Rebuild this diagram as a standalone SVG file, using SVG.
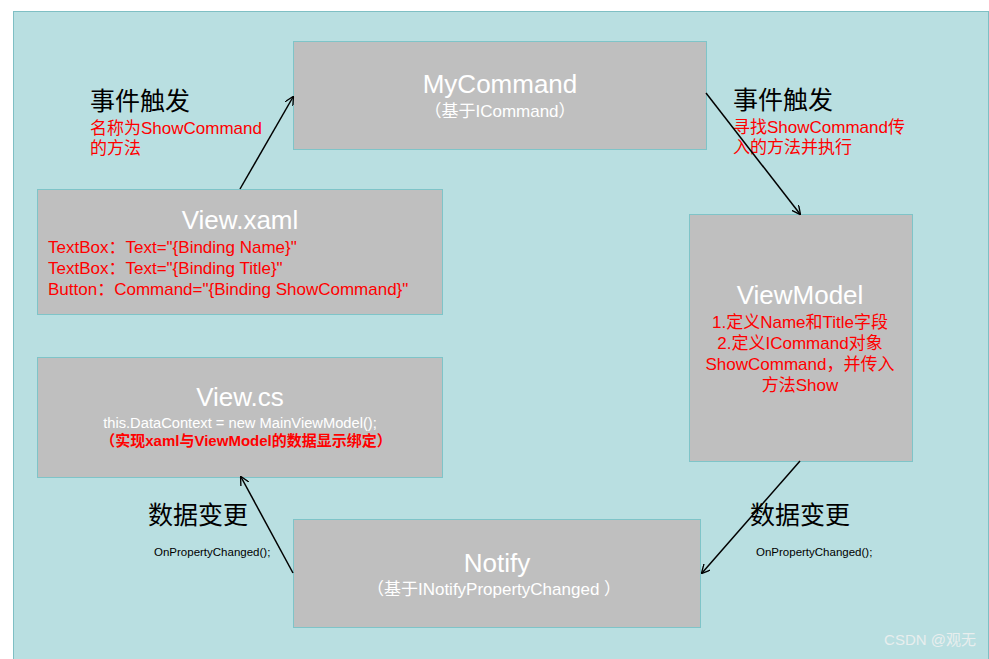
<svg xmlns="http://www.w3.org/2000/svg" width="989" height="659" viewBox="0 0 989 659">
<style>
.box{fill:#bfbfbf;stroke:#7fc4c8;stroke-width:1}
.t{font-family:"Liberation Sans","Noto Sans CJK SC",sans-serif;fill:#fff;text-anchor:middle}
.r{font-family:"Liberation Sans","Noto Sans CJK SC",sans-serif;fill:#ff0000;font-size:17px}
.k{font-family:"Noto Sans CJK SC",serif;fill:#000;font-size:25px}
.s{font-family:"Liberation Sans",sans-serif;fill:#000;font-size:11.5px}
.c{stroke:#000;stroke-width:1.5;fill:none;marker-end:url(#a)}
</style>
<defs><marker id="a" viewBox="0 0 10 10" refX="9" refY="5" markerWidth="9" markerHeight="9" orient="auto" markerUnits="userSpaceOnUse"><path d="M0,0 L10,5 L0,10" fill="none" stroke="#000" stroke-width="1.5"/></marker></defs>
<rect width="989" height="659" fill="#fff"/>
<rect x="13.5" y="11.5" width="975" height="650" fill="#b9dfe1" stroke="#7fbfc4"/>
<g id="mycommand"><rect class="box" x="293.5" y="41.5" width="413" height="108"/>
<text class="t" x="500" y="93" font-size="26">MyCommand</text>
<text class="t" x="500" y="117" font-size="17">（基于ICommand）</text></g>
<g id="viewxaml"><rect class="box" x="37.5" y="189.5" width="405" height="125"/>
<text class="t" x="240" y="229" font-size="26">View.xaml</text>
<text class="r" x="48" y="253" font-size="16.5">TextBox：Text="{Binding Name}"</text>
<text class="r" x="48" y="274" font-size="16.5">TextBox：Text="{Binding Title}"</text>
<text class="r" x="48" y="295" font-size="16.5">Button：Command="{Binding ShowCommand}"</text></g>
<g id="viewmodel"><rect class="box" x="689.5" y="214.5" width="223" height="247"/>
<text class="t" x="800" y="304" font-size="26">ViewModel</text>
<text class="r" x="800" y="328" text-anchor="middle">1.定义Name和Title字段</text>
<text class="r" x="800" y="349" text-anchor="middle">2.定义ICommand对象</text>
<text class="r" x="800" y="370" text-anchor="middle">ShowCommand，并传入</text>
<text class="r" x="800" y="391" text-anchor="middle">方法Show</text></g>
<g id="viewcs"><rect class="box" x="37.5" y="357.5" width="405" height="120"/>
<text class="t" x="240" y="406" font-size="26">View.cs</text>
<text class="t" x="240" y="428" font-size="14.7">this.DataContext = new MainViewModel();</text>
<text x="246" y="446" font-size="15" font-weight="bold" fill="#ff0000" text-anchor="middle" font-family="Liberation Sans,Noto Sans CJK SC,sans-serif">（实现xaml与ViewModel的数据显示绑定）</text></g>
<g id="notify"><rect class="box" x="293.5" y="519.5" width="407" height="108"/>
<text class="t" x="497" y="572" font-size="26">Notify</text>
<text class="t" x="494" y="595" font-size="17">（基于INotifyPropertyChanged ）</text></g>
<g id="labels">
<text class="k" x="90" y="110">事件触发</text>
<text class="r" x="90" y="134">名称为ShowCommand</text>
<text class="r" x="90" y="154">的方法</text>
<text class="k" x="733" y="109">事件触发</text>
<text class="r" x="733" y="133">寻找ShowCommand传</text>
<text class="r" x="733" y="153">入的方法并执行</text>
<text class="k" x="148" y="524">数据变更</text>
<text class="s" x="154" y="556">OnPropertyChanged();</text>
<text class="k" x="750" y="524">数据变更</text>
<text class="s" x="756" y="556">OnPropertyChanged();</text>
<text x="930" y="645" font-size="15" fill="#e8eeee" text-anchor="middle" font-family="Liberation Sans,Noto Sans CJK SC,sans-serif">CSDN @观无</text>
</g>
<g id="connectors">
<line class="c" x1="240" y1="189" x2="293" y2="97"/>
<line class="c" x1="706" y1="93" x2="800" y2="214"/>
<line class="c" x1="800" y1="461" x2="702" y2="573"/>
<line class="c" x1="293" y1="573" x2="241" y2="477"/>
</g>
</svg>
